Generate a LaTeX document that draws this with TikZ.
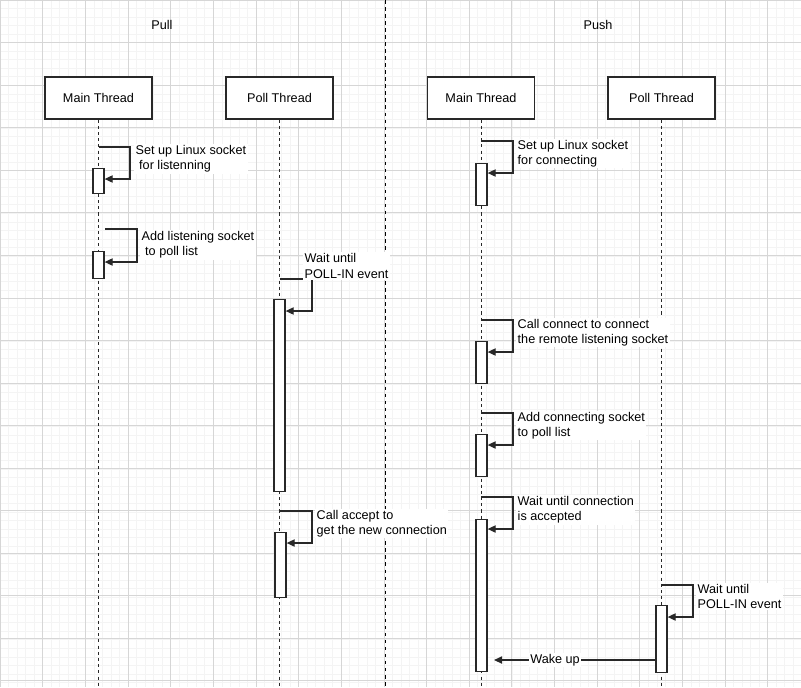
\documentclass[tikz,border=0pt]{standalone}
\usepackage{fontspec}
\setmainfont{Liberation Sans}
\usetikzlibrary{arrows.meta, positioning, calc}
\definecolor{gridmajor}{RGB}{214,214,214}
\definecolor{gridminor}{RGB}{244,244,244}
\definecolor{boxline}{RGB}{40,40,40}

\begin{document}
\begin{tikzpicture}[x=0.025cm, y=-0.025cm,
  thread/.style={draw=boxline, line width=0.9pt, fill=white, minimum width=2.675cm, minimum height=1.05cm, inner sep=0pt, font=\fontsize{9}{10.9}\selectfont},
  act/.style={draw=boxline, line width=0.9pt, fill=white, minimum width=0.275cm, inner sep=0pt, anchor=north},
  life/.style={draw=boxline, line width=0.7pt, dash pattern=on 2.2pt off 2.2pt},
  sep/.style={draw=black, line width=0.8pt, dash pattern=on 2.5pt off 2.5pt},
  msg/.style={draw=boxline, line width=0.9pt, -{Triangle[length=0.2cm, width=0.18cm]}},
  lbl/.style={fill=white, anchor=west, align=left, inner sep=1pt, font=\fontsize{9}{10.9}\selectfont},
  title/.style={font=\fontsize{9}{10.9}\selectfont}]
  \useasboundingbox (0,0) rectangle (801,687);
  \fill[white] (0,0) rectangle (801,687);
  % grid
  \foreach \i in {0,...,94} \draw[gridminor, line width=0.4pt] (\i*8.53,0) -- (\i*8.53,687);
  \foreach \i in {0,...,81} \draw[gridminor, line width=0.4pt] (0,\i*8.53) -- (801,\i*8.53);
  \foreach \i in {0,...,18} \draw[gridmajor, line width=0.5pt] (\i*42.65,0) -- (\i*42.65,687);
  \foreach \i in {0,...,16} \draw[gridmajor, line width=0.5pt] (0,\i*42.55) -- (801,\i*42.55);

  \node[title] (pull) at (162,25) {Pull};
  \node[title] (push) at (598,25) {Push};
  \draw[sep] (385.5,0) -- (385.5,687);

  % threads
  \node[thread] (pullmain) at (98.5,98) {Main Thread};
  \node[thread] (pullpoll) at (279.5,98) {Poll Thread};
  \node[thread] (pushmain) at (481,98) {Main Thread};
  \node[thread] (pushpoll) at (661.5,98) {Poll Thread};
  \foreach \t in {pullmain, pullpoll, pushmain, pushpoll}
    \draw[life] (\t.south) -- (\t.south |- 0,687);

  % activations
  \foreach \n/\x/\a/\b in {pa1/98.5/168/193, pa2/98.5/251/278, pb1/279.5/299/491, pb2/280.5/532/597,
      qa1/481.5/163/205, qa2/481.5/341/383, qa3/481.5/434/476, qa4/481.5/519/671, qb1/661.5/605/672}
    \node[act, minimum height={(\b-\a)*0.025cm}] (\n) at (\x,\a) {};

  % pull side
  \draw[msg] (pullmain |- 0,147) -- (130,147) |- (pa1.east |- 0,179);
  \node[lbl] (l1) at (134,159) {Set up Linux socket\\\ for listenning};
  \draw[msg] (105,229) -- (137,229) |- (pa2.east |- 0,262);
  \node[lbl] (l2) at (140,245) {Add listening socket\\\ to poll list};
  \draw[msg] (pullpoll |- 0,279) -- (312,279) |- (pb1.east |- 0,311);
  \node[lbl] (l3) at (303,266) {Wait until\\POLL-IN event};
  \draw[msg] (pullpoll |- 0,511) -- (312,511) |- (pb2.east |- 0,543);
  \node[lbl] (l4) at (315,523.5) {Call accept to\\get the new connection};

  % push side
  \draw[msg] (pushmain |- 0,141) -- (513,141) |- (qa1.east |- 0,173);
  \node[lbl] (r1) at (516,153.5) {Set up Linux socket\\for connecting};
  \draw[msg] (pushmain |- 0,320) -- (513,320) |- (qa2.east |- 0,352);
  \node[lbl] (r2) at (516,332.5) {Call connect to connect\\the remote listening socket};
  \draw[msg] (pushmain |- 0,413) -- (513,413) |- (qa3.east |- 0,445);
  \node[lbl] (r3) at (516,425.5) {Add connecting socket\\to poll list};
  \draw[msg] (pushmain |- 0,497) -- (513,497) |- (qa4.east |- 0,529);
  \node[lbl] (r4) at (516,510) {Wait until connection\\is accepted};
  \draw[msg] (pushpoll |- 0,585) -- (693,585) |- (qb1.east |- 0,617);
  \node[lbl] (r5) at (696,596.5) {Wait until\\POLL-IN event};
  \draw[msg, shorten >=0.16cm] (qb1.west |- 0,660) -- (qa4.east |- 0,660);
  \node[lbl, anchor=center] (wake) at (555,660) {Wake up};
\end{tikzpicture}
\end{document}
